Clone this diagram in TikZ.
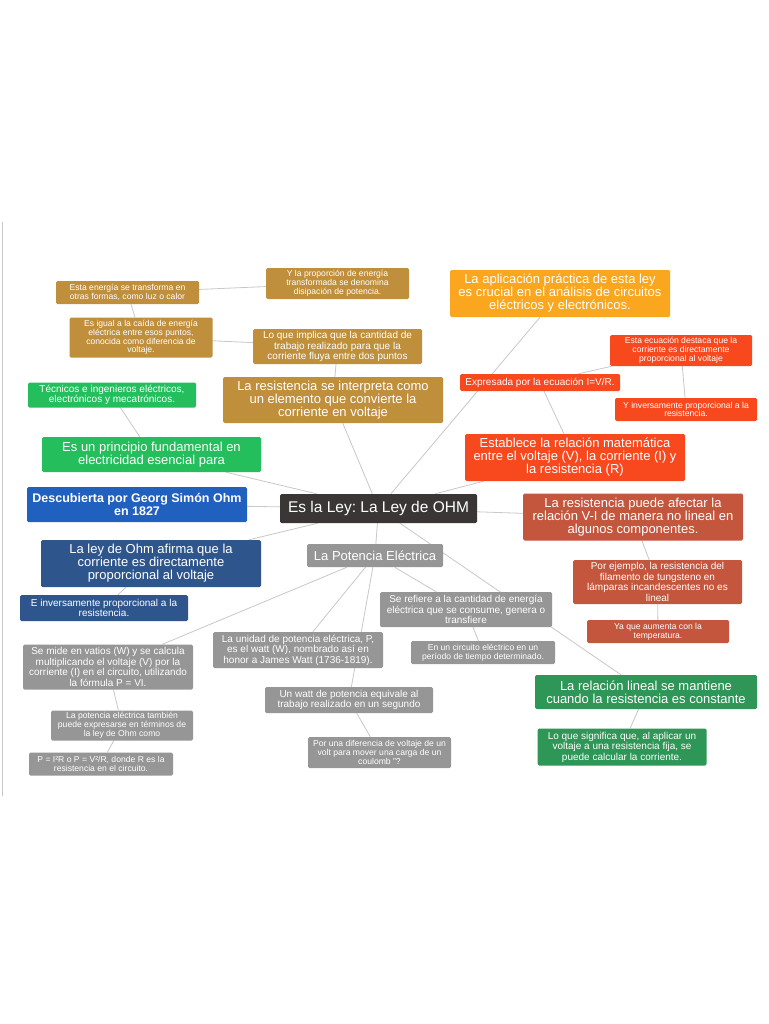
\documentclass[tikz,border=0pt]{standalone}
\usepackage{fontspec}
\setmainfont{Liberation Sans}
\usetikzlibrary{backgrounds}
\frenchspacing
\definecolor{ohmdark}{RGB}{58,54,54}
\definecolor{ohmgold}{RGB}{192,143,60}
\definecolor{ohmorange}{RGB}{250,166,30}
\definecolor{ohmred}{RGB}{248,72,30}
\definecolor{ohmrust}{RGB}{196,86,62}
\definecolor{ohmgreen}{RGB}{36,190,92}
\definecolor{ohmforest}{RGB}{46,150,86}
\definecolor{ohmblue}{RGB}{32,96,190}
\definecolor{ohmnavy}{RGB}{46,86,140}
\definecolor{ohmgrey}{RGB}{150,150,150}
\definecolor{ohmline}{RGB}{200,200,200}
\tikzset{
	card/.style={rectangle, rounded corners=1.5pt, inner sep=0pt, align=center, text=white},
	wh/.style 2 args={minimum width=#1pt, minimum height=#2pt},
	fbig/.style={font=\fontsize{15.5}{17}\selectfont},
	flarge/.style={font=\fontsize{13}{13}\selectfont},
	fmid/.style={font=\fontsize{10}{10.5}\selectfont},
	fsmall/.style={font=\fontsize{8.6}{8.8}\selectfont},
	Dk/.style={card, fill=ohmdark},
	Au/.style={card, fill=ohmgold},
	Or/.style={card, fill=ohmorange},
	Rd/.style={card, fill=ohmred},
	Ru/.style={card, fill=ohmrust},
	Gn/.style={card, fill=ohmgreen},
	Fo/.style={card, fill=ohmforest},
	Bl/.style={card, fill=ohmblue},
	Nv/.style={card, fill=ohmnavy},
	Gy/.style={card, fill=ohmgrey},
	link/.style={draw=ohmline, line width=0.8pt},
}
\begin{document}
\begin{tikzpicture}[x=1pt, y=-1pt]
	\useasboundingbox (0,0) rectangle (768,1024);

	% centro
	\node[Dk, fbig, wh={197}{29}] (ohm) at (378.5,508.5) {Es la Ley: La Ley de OHM};

	% rama superior (dorada)
	\node[Au, fsmall, wh={143}{31}] (disipacion) at (337.5,283.5) {Y la proporción de energía\\transformada se denomina\\disipación de potencia.};
	\node[Au, fsmall, wh={143}{23}] (energia) at (127.5,292.5) {Esta energía se transforma en\\otras formas, como luz o calor};
	\node[Au, fsmall, wh={143}{40}] (caida) at (141,337.5) {Es igual a la caída de energía\\eléctrica entre esos puntos,\\conocida como diferencia de\\voltaje.};
	\node[Au, fmid, wh={169}{35}] (trabajo) at (337.5,346.5) {Lo que implica que la cantidad de\\trabajo realizado para que la\\corriente fluya entre dos puntos};
	\node[Au, flarge, wh={220}{46}] (interpreta) at (333,400) {La resistencia se interpreta como\\un elemento que convierte la\\corriente en voltaje};

	% rama derecha (naranja y roja)
	\node[Or, flarge, wh={220}{47}] (aplicacion) at (560,293.5) {La aplicación práctica de esta ley\\es crucial en el análisis de circuitos\\eléctricos y electrónicos.};
	\node[Rd, fsmall, wh={142}{31}] (destaca) at (681,350.5) {Esta ecuación destaca que la\\corriente es directamente\\proporcional al voltaje};
	\node[Rd, fmid, wh={160}{17}] (ecuacion) at (540,382.5) {Expresada por la ecuación I=V/R.};
	\node[Rd, fsmall, wh={142}{23}] (inversa) at (686,409.5) {Y inversamente proporcional a la\\resistencia.};
	\node[Rd, flarge, wh={220}{47}] (establece) at (575,457.5) {Establece la relación matemática\\entre el voltaje (V), la corriente (I) y\\la resistencia (R)};

	% rama izquierda (verde y azul)
	\node[Gn, fmid, wh={168}{25}] (tecnicos) at (112,395) {Técnicos e ingenieros eléctricos,\\electrónicos y mecatrónicos.};
	\node[Gn, flarge, wh={219}{35}] (principio) at (151.5,454.5) {Es un principio fundamental en\\electricidad esencial para};
	\node[Bl, wh={220}{35}, font=\fontsize{12.5}{13}\selectfont\bfseries] (descubierta) at (137,504.5) {Descubierta por Georg Simón Ohm\\en 1827};
	\node[Nv, flarge, wh={220}{47}] (afirma) at (151,563.5) {La ley de Ohm afirma que la\\corriente es directamente\\proporcional al voltaje};
	\node[Nv, fmid, wh={168}{26}] (einversa) at (104,608) {E inversamente proporcional a la\\resistencia.};

	% rama derecha inferior
	\node[Ru, flarge, wh={220}{47}] (nolineal) at (633,517) {La resistencia puede afectar la\\relación V-I de manera no lineal en\\algunos componentes.};
	\node[Ru, fmid, wh={169}{44}] (tungsteno) at (657.5,582) {Por ejemplo, la resistencia del\\filamento de tungsteno en\\lámparas incandescentes no es\\lineal};
	\node[Ru, fsmall, wh={142}{23}] (temperatura) at (658,631.5) {Ya que aumenta con la\\temperatura.};
	\node[Fo, flarge, wh={222}{34}] (lineal) at (646,692) {La relación lineal se mantiene\\cuando la resistencia es constante};
	\node[Fo, fmid, wh={169}{37}] (significa) at (622,747) {Lo que significa que, al aplicar un\\voltaje a una resistencia fija, se\\puede calcular la corriente.};

	% la potencia
	\node[Gy, flarge, wh={136}{23}] (potencia) at (375,555.5) {La Potencia Eléctrica};
	\node[Gy, fmid, wh={172}{35}] (cantidad) at (466,609.5) {Se refiere a la cantidad de energía\\eléctrica que se consume, genera o\\transfiere};
	\node[Gy, fsmall, wh={144}{23}] (periodo) at (483,652.5) {En un circuito eléctrico en un\\período de tiempo determinado.};
	\node[Gy, fmid, wh={170}{45}] (vatios) at (108,667) {Se mide en vatios (W) y se calcula\\multiplicando el voltaje (V) por la\\corriente (I) en el circuito, utilizando\\la fórmula P = VI.};
	\node[Gy, fmid, wh={170}{36}] (unidad) at (298,650) {La unidad de potencia eléctrica, P,\\es el watt (W), nombrado así en\\honor a James Watt (1736-1819).};
	\node[Gy, fmid, wh={168}{26}] (segundo) at (349,700) {Un watt de potencia equivale al\\trabajo realizado en un segundo};
	\node[Gy, fsmall, wh={143}{31}] (coulomb) at (379.5,752.5) {Por una diferencia de voltaje de un\\volt para mover una carga de un\\coulomb "?};
	\node[Gy, fsmall, wh={142}{30}] (terminos) at (122,725.5) {La potencia eléctrica también\\puede expresarse en términos de\\la ley de Ohm como};
	\node[Gy, fsmall, wh={144}{23}] (formula) at (101,764) {P = I²R o P = V²/R, donde R es la\\resistencia en el circuito.};

	% conectores
	\begin{pgfonlayer}{background}
		\fill[white] (0,0) rectangle (768,1024);
		\draw[ohmline, line width=0.8pt] (2,222) -- (2,796);
		\path[link] (ohm) -- (aplicacion);
		\path[link] (ohm) -- (interpreta);
		\path[link] (interpreta) -- (trabajo);
		\path[link] (trabajo) -- (caida);
		\path[link] (caida) -- (energia);
		\path[link] (energia) -- (disipacion);
		\path[link] (ohm) -- (establece);
		\path[link] (establece) -- (ecuacion);
		\path[link] (ecuacion) -- (destaca);
		\path[link] (destaca) -- (inversa);
		\path[link] (ohm) -- (principio);
		\path[link] (principio) -- (tecnicos);
		\path[link] (ohm) -- (descubierta);
		\path[link] (ohm) -- (afirma);
		\path[link] (afirma) -- (einversa);
		\path[link] (ohm) -- (nolineal);
		\path[link] (nolineal) -- (tungsteno);
		\path[link] (tungsteno) -- (temperatura);
		\path[link] (ohm) -- (lineal);
		\path[link] (lineal) -- (significa);
		\path[link] (ohm) -- (potencia);
		\path[link] (potencia) -- (cantidad);
		\path[link] (cantidad) -- (periodo);
		\path[link] (potencia) -- (vatios);
		\path[link] (potencia) -- (unidad);
		\path[link] (potencia) -- (segundo);
		\path[link] (segundo) -- (coulomb);
		\path[link] (vatios) -- (terminos);
		\path[link] (terminos) -- (formula);
	\end{pgfonlayer}
\end{tikzpicture}
\end{document}
